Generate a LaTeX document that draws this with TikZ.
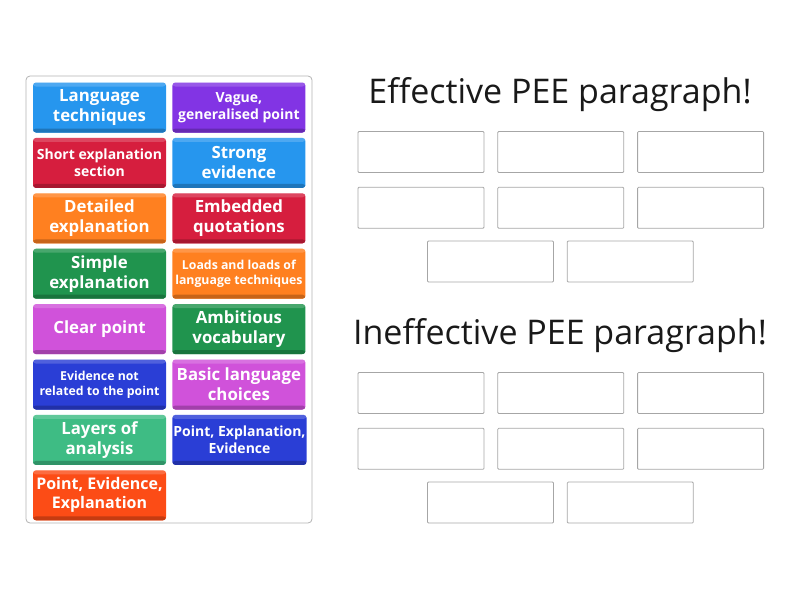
\documentclass[tikz,border=0pt]{standalone}
\usepackage{fontspec}
\setmainfont{Open Sans}
\usetikzlibrary{positioning}

\definecolor{tblue}{RGB}{38,150,238}
\definecolor{tpurple}{RGB}{130,52,228}
\definecolor{tred}{RGB}{214,30,62}
\definecolor{torange}{RGB}{255,128,32}
\definecolor{tgreen}{RGB}{32,148,78}
\definecolor{torchid}{RGB}{208,82,218}
\definecolor{tnavy}{RGB}{42,62,214}
\definecolor{tsea}{RGB}{62,188,132}
\definecolor{tflame}{RGB}{252,76,22}

\begin{document}
\begin{tikzpicture}[x=1pt, y=-1pt, node distance=5pt and 6pt,
    tile/.style={rounded corners=3pt, fill=#1, text=white, align=center,
      minimum width=133pt, minimum height=50pt, inner sep=1pt, font=\bfseries,
      path picture={
        \fill[#1!78!black] ([yshift=4pt]path picture bounding box.south west) rectangle (path picture bounding box.south east);
        \fill[white, opacity=0.18] (path picture bounding box.north west) rectangle ([yshift=-4pt]path picture bounding box.north east);}},
    big/.style={font=\bfseries\fontsize{16.8}{20}\selectfont},
    mid/.style={font=\bfseries\fontsize{14}{16.5}\selectfont},
    small/.style={font=\bfseries\fontsize{12.3}{15}\selectfont},
    slot/.style={draw=black!35, line width=0.8pt, rounded corners=1pt, minimum width=126pt, minimum height=41pt},
    heading/.style={font=\fontsize{34}{40}\selectfont, text=black!90}]
        \useasboundingbox (0,0) rectangle (800,600);

        % card panel
        \draw[black!30, line width=0.8pt, rounded corners=4pt] (26,76) rectangle (312,523);

        \node[tile=tblue, big] (L1) at (99.5,107.5) {Language\\techniques};
        \node[tile=tred, mid] (L2) [below=of L1] {Short explanation\\section};
        \node[tile=torange, big] (L3) [below=of L2] {Detailed\\explanation};
        \node[tile=tgreen, big] (L4) [below=of L3] {Simple\\explanation};
        \node[tile=torchid, big] (L5) [below=of L4] {Clear point};
        \node[tile=tnavy, small] (L6) [below=of L5] {Evidence not\\related to the point};
        \node[tile=tsea, big] (L7) [below=of L6] {Layers of\\analysis};
        \node[tile=tflame, big, font=\bfseries\fontsize{16}{19}\selectfont] (L8) [below=of L7] {Point, Evidence,\\Explanation};

        \node[tile=tpurple, mid] (R1) [right=of L1] {Vague,\\generalised point};
        \node[tile=tblue, big] (R2) [right=of L2] {Strong\\evidence};
        \node[tile=tred, big] (R3) [right=of L3] {Embedded\\quotations};
        \node[tile=torange, small] (R4) [right=of L4] {Loads and loads of\\language techniques};
        \node[tile=tgreen, big] (R5) [right=of L5] {Ambitious\\vocabulary};
        \node[tile=torchid, big] (R6) [right=of L6] {Basic language\\choices};
        \node[tile=tnavy, mid] (R7) [right=of L7] {Point, Explanation,\\Evidence};

        % effective group
        \node[heading] (E) at (560,95) {Effective PEE paragraph!};
        \node[slot] (E1) at (421,152) {};
        \node[slot] (E2) [right=13pt of E1] {};
        \node[slot] (E3) [right=13pt of E2] {};
        \node[slot] (E4) [below=14pt of E1] {};
        \node[slot] (E5) [right=13pt of E4] {};
        \node[slot] (E6) [right=13pt of E5] {};
        \node[slot] (E7) at (490.5,261.5) {};
        \node[slot] (E8) [right=13pt of E7] {};

        % ineffective group
        \node[heading] (I) at (560,336) {Ineffective PEE paragraph!};
        \node[slot] (I1) at (421,393) {};
        \node[slot] (I2) [right=13pt of I1] {};
        \node[slot] (I3) [right=13pt of I2] {};
        \node[slot] (I4) [below=14pt of I1] {};
        \node[slot] (I5) [right=13pt of I4] {};
        \node[slot] (I6) [right=13pt of I5] {};
        \node[slot] (I7) at (490.5,502.5) {};
        \node[slot] (I8) [right=13pt of I7] {};
\end{tikzpicture}
\end{document}
